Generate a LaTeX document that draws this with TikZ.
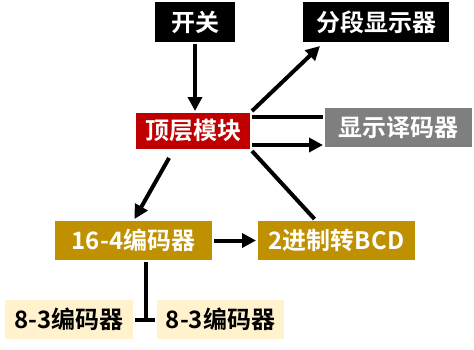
\documentclass[tikz,border=0pt]{standalone}
\usepackage{fontspec}
\setmainfont{Noto Sans CJK SC}[BoldFont={* Bold}]
\usetikzlibrary{arrows.meta}
\definecolor{topred}{HTML}{C00000}
\definecolor{decgray}{HTML}{7F7F7F}
\definecolor{encgold}{HTML}{BF9000}
\definecolor{subcream}{HTML}{FFF2CC}
\begin{document}
\begin{tikzpicture}[
    x=1pt, y=-1pt,
    >={Triangle[length=14pt,width=14pt]},
    line width=4pt,
    every node/.style={rectangle, inner sep=0pt, text=white,
      font=\fontsize{24}{26}\selectfont\bfseries},
    blackbox/.style={fill=black},
    subbox/.style={fill=subcream, text=black}
]
  \useasboundingbox (0,0) rectangle (474,349);

  % nodes
  \node[blackbox, minimum width=80pt, minimum height=40pt]   (sw)  at (195,22)    {开关};
  \node[blackbox, minimum width=146pt, minimum height=40pt]  (seg) at (376,22)    {分段显示器};
  \node[fill=topred, minimum width=114pt, minimum height=36pt] (top) at (193,131) {顶层模块};
  \node[fill=decgray, minimum width=147pt, minimum height=39pt] (dec) at (398.5,127.5) {显示译码器};
  \node[fill=encgold, minimum width=157pt, minimum height=39pt] (enc) at (133.5,240.5) {16-4编码器};
  \node[fill=encgold, minimum width=157pt, minimum height=39pt] (bcd) at (336.5,240.5) {2进制转BCD};
  \node[subbox, minimum width=128pt, minimum height=39pt]    (encl) at (69,319.5)  {8-3编码器};
  \node[subbox, minimum width=127pt, minimum height=39pt]    (encr) at (220.5,319.5) {8-3编码器};

  % edges
  \draw[->] (sw.south) -- (sw.south |- top.north);
  \draw[->] (top.north east) -- ([xshift=19pt,yshift=-2pt]seg.south west);
  \draw ([yshift=14pt]top.east) -- ([yshift=14pt]top.east -| dec.west);
  \draw[->] ([yshift=-14pt]top.east) -- ([yshift=-14pt]top.east -| dec.west);
  \draw[->, shorten <=8pt] ([xshift=-20pt]top.south) -- ([xshift=1pt]enc.north);
  \draw (top.south east) -- ([xshift=-22pt]bcd.north);
  \draw[->] (enc.east) -- (bcd.west);
  \draw ([xshift=12pt]enc.south) -- ([xshift=12pt]enc.south |- encl.east);
  \draw (encl.east) -- (encr.west);
\end{tikzpicture}
\end{document}
